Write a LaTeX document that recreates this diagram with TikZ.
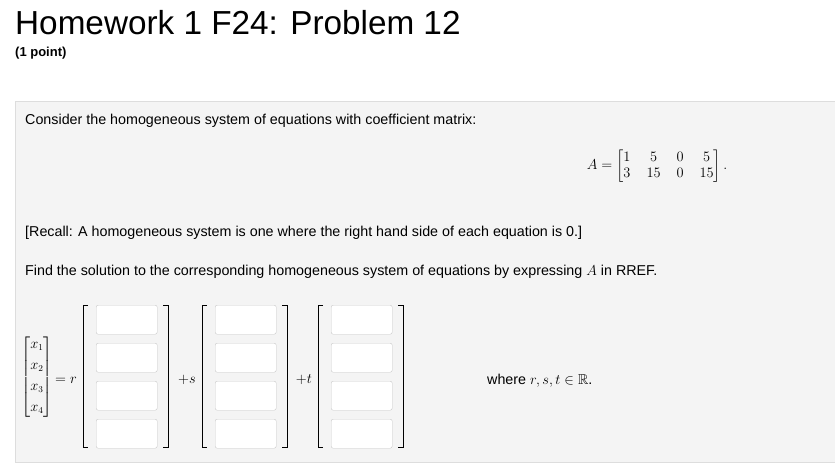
\documentclass[tikz,border=0pt]{standalone}
\usepackage{amsmath,amssymb}
\usepackage{fontspec}
\setmainfont{Liberation Sans}
\definecolor{panel}{HTML}{F4F4F4}
\definecolor{panelb}{HTML}{DDDDDD}
\definecolor{boxb}{HTML}{C8C8C8}
\tikzset{
  txt/.style={anchor=base west,inner sep=0pt,font=\fontsize{14.3}{17}\selectfont},
  mth/.style={anchor=center,inner sep=0pt,font=\fontsize{13.5}{16}\selectfont},
  ansbox/.style={draw=boxb,fill=white,rounded corners=2pt,minimum width=61pt,minimum height=29pt,inner sep=0pt,anchor=north west},
  brk/.style={line width=0.8pt}
}
\begin{document}
\begin{tikzpicture}[x=1pt,y=-1pt]
\useasboundingbox (0,0) rectangle (835,474);
\fill[white] (0,0) rectangle (835,474);
\draw[panelb,fill=panel] (15,101) -- (835,101) -- (835,462) -- (15,462) -- cycle;
\node[txt,font=\fontsize{33.3}{37}\selectfont] (title) at (15,34) {Homework 1 F24: Problem 12};
\node[txt,font=\fontsize{13}{15}\selectfont\bfseries] (pts) at (15,56) {(1 point)};
\node[txt] (l1) at (25,124) {Consider the homogeneous system of equations with coefficient matrix:};
\node[mth] (A) at (657,166) {$\setlength\arraycolsep{8pt}A=\begin{bmatrix}1&5&0&5\\3&15&0&15\end{bmatrix}.$};
\node[txt] (l2) at (25,236) {[Recall: A homogeneous system is one where the right hand side of each equation is 0.]};
\node[txt] (l3) at (25,275) {Find the solution to the corresponding homogeneous system of equations by expressing $A$ in RREF.};
\node[mth] (X) at (37,377) {$\begin{bmatrix}x_1\\[5pt]x_2\\[5pt]x_3\\[5pt]x_4\end{bmatrix}$};
\node[mth] (er) at (66,380) {$=r$};
\node[mth] (ps) at (187,380) {$+s$};
\node[mth] (pt) at (304,380) {$+t$};
\node[txt] (wh) at (487,384) {where $r,s,t\in\mathbb{R}$.};
\foreach \i/\bx in {1/83,2/202,3/318}{
  \draw[brk] (\bx+5,305) -- (\bx,305) -- (\bx,447) -- (\bx+5,447);
  \draw[brk] (\bx+80,305) -- (\bx+85,305) -- (\bx+85,447) -- (\bx+80,447);
  \foreach \j/\by in {1/305,2/343,3/381,4/419}{
    \node[ansbox] (b\i\j) at (\bx+13,\by) {};
  }
}
\end{tikzpicture}
\end{document}
